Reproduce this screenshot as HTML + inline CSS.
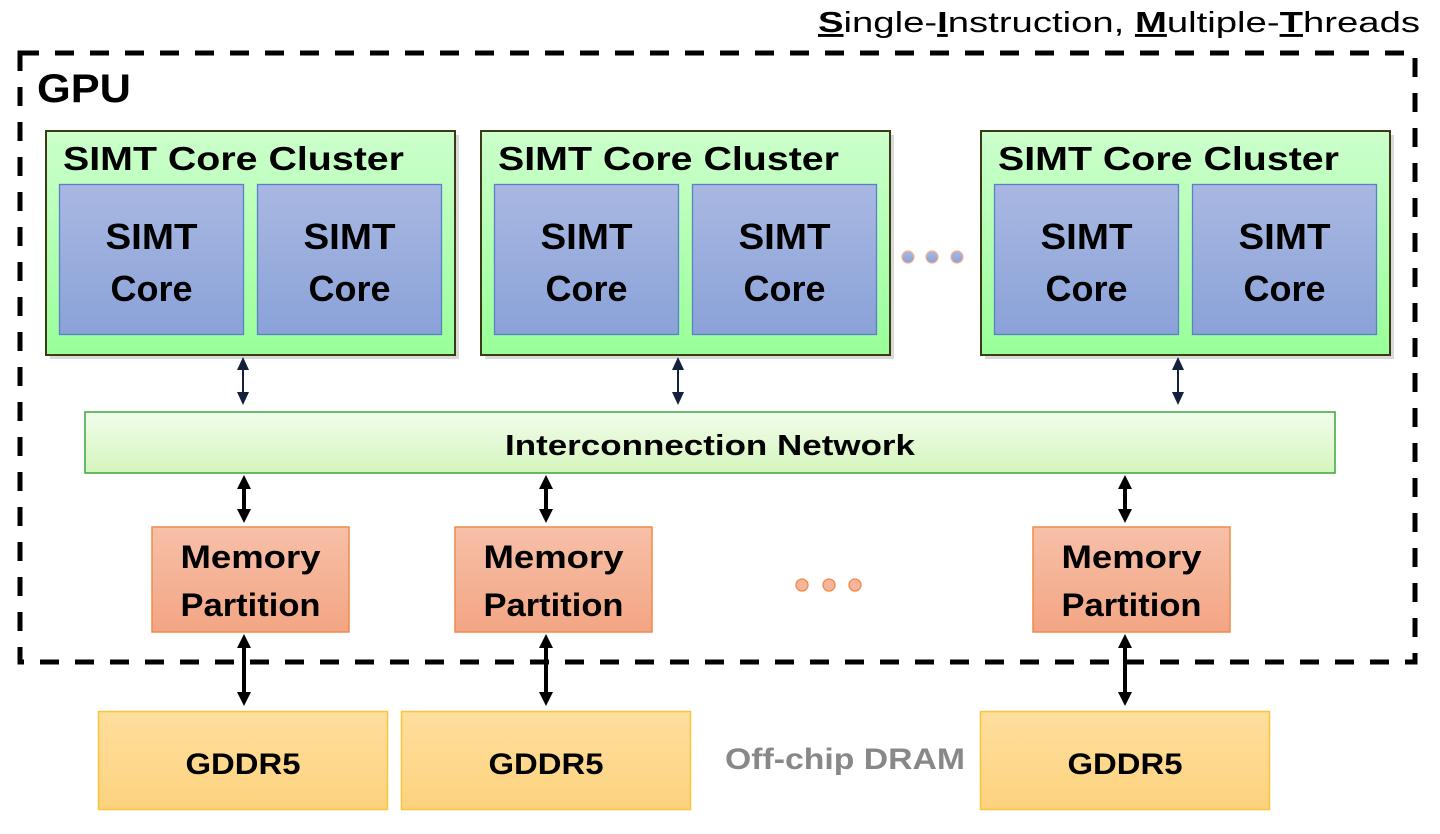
<!DOCTYPE html>
<html><head><meta charset="utf-8"><style>
html,body{margin:0;padding:0;background:#fff;}
svg{display:block;}
text{font-family:"Liberation Sans",sans-serif;font-weight:bold;fill:#000;}
</style></head><body>
<svg width="1440" height="834" viewBox="0 0 1440 834" xmlns="http://www.w3.org/2000/svg">
<defs>
<linearGradient id="gc" x1="0" y1="0" x2="0" y2="1"><stop offset="0" stop-color="#ccffcc"/><stop offset="1" stop-color="#99ff99"/></linearGradient>
<linearGradient id="gb" x1="0" y1="0" x2="0" y2="1"><stop offset="0" stop-color="#a9b8e2"/><stop offset="1" stop-color="#8aa2d8"/></linearGradient>
<linearGradient id="gi" x1="0" y1="0" x2="0" y2="1"><stop offset="0" stop-color="#f2fdec"/><stop offset="1" stop-color="#d4f5bd"/></linearGradient>
<linearGradient id="gm" x1="0" y1="0" x2="0" y2="1"><stop offset="0" stop-color="#f6c0a8"/><stop offset="1" stop-color="#f3a584"/></linearGradient>
<linearGradient id="gdr" x1="0" y1="0" x2="0" y2="1"><stop offset="0" stop-color="#fedf9e"/><stop offset="1" stop-color="#fdd27e"/></linearGradient>
<linearGradient id="gdot" x1="0" y1="0" x2="0" y2="1"><stop offset="0" stop-color="#a9b8e2"/><stop offset="1" stop-color="#8aa2d8"/></linearGradient>
</defs>

<text x="1420" y="32" text-anchor="end" font-size="29" style="font-weight:normal" textLength="602" lengthAdjust="spacingAndGlyphs"><tspan font-weight="bold" text-decoration="underline">S</tspan>ingle-<tspan font-weight="bold" text-decoration="underline">I</tspan>nstruction, <tspan font-weight="bold" text-decoration="underline">M</tspan>ultiple-<tspan font-weight="bold" text-decoration="underline">T</tspan>hreads</text>

<rect x="20" y="53" width="1395" height="609" fill="none" stroke="#000" stroke-width="5" stroke-dasharray="19 16"/>
<text x="37" y="102" font-size="40" textLength="94" lengthAdjust="spacingAndGlyphs">GPU</text>

<g id="cl">
<rect x="50" y="135" width="409" height="224" fill="#000" opacity="0.15"/>
<rect x="46" y="131" width="409" height="224" fill="url(#gc)" stroke="#3a3a14" stroke-width="2"/>
<text x="63" y="170" font-size="33" textLength="341" lengthAdjust="spacingAndGlyphs">SIMT Core Cluster</text>
<rect x="59.5" y="184.5" width="184" height="150" fill="url(#gb)" stroke="#5a80c8" stroke-width="1.3"/>
<rect x="257.5" y="184.5" width="184" height="150" fill="url(#gb)" stroke="#5a80c8" stroke-width="1.3"/>
<text x="151.5" y="249" font-size="36" text-anchor="middle" textLength="92" lengthAdjust="spacingAndGlyphs">SIMT</text>
<text x="151.5" y="301" font-size="36" text-anchor="middle" textLength="82" lengthAdjust="spacingAndGlyphs">Core</text>
<text x="349.5" y="249" font-size="36" text-anchor="middle" textLength="92" lengthAdjust="spacingAndGlyphs">SIMT</text>
<text x="349.5" y="301" font-size="36" text-anchor="middle" textLength="82" lengthAdjust="spacingAndGlyphs">Core</text>
</g>
<use href="#cl" x="435"/>
<use href="#cl" x="935"/>

<g fill="url(#gdot)" stroke="#f5b08a" stroke-width="1.2">
<circle cx="908" cy="257" r="6"/><circle cx="932" cy="257" r="6"/><circle cx="957" cy="257" r="6"/>
</g>

<g id="ta" fill="#14213d" stroke="#14213d">
<line x1="243" y1="368" x2="243" y2="395" stroke-width="2"/>
<polygon points="243,357 237,370 249,370" stroke="none"/>
<polygon points="243,405 237,392 249,392" stroke="none"/>
</g>
<use href="#ta" x="435"/>
<use href="#ta" x="935"/>

<rect x="85" y="412" width="1250" height="61" fill="url(#gi)" stroke="#3aa63a" stroke-width="1.5"/>
<text x="710" y="455" font-size="29" text-anchor="middle" textLength="410" lengthAdjust="spacingAndGlyphs">Interconnection Network</text>

<g id="ka" fill="#000" stroke="#000">
<line x1="244" y1="485" x2="244" y2="513" stroke-width="4"/>
<polygon points="244,475 237,489 251,489" stroke="none"/>
<polygon points="244,523 237,509 251,509" stroke="none"/>
</g>
<use href="#ka" x="302"/>
<use href="#ka" x="881"/>

<g id="mp">
<rect x="152" y="527" width="197" height="105" fill="url(#gm)" stroke="#f08a4a" stroke-width="1.5"/>
<text x="250.5" y="568" font-size="32" text-anchor="middle" textLength="140" lengthAdjust="spacingAndGlyphs">Memory</text>
<text x="250.5" y="616" font-size="32" text-anchor="middle" textLength="140" lengthAdjust="spacingAndGlyphs">Partition</text>
</g>
<use href="#mp" x="303"/>
<use href="#mp" x="881"/>

<g fill="#f6b498" stroke="#f08a4a" stroke-width="1.3">
<circle cx="802" cy="585" r="6"/><circle cx="829" cy="585" r="6"/><circle cx="855" cy="585" r="6"/>
</g>

<g id="la" fill="#000" stroke="#000">
<line x1="244" y1="644" x2="244" y2="696" stroke-width="4"/>
<polygon points="244,634 237,648 251,648" stroke="none"/>
<polygon points="244,706 237,692 251,692" stroke="none"/>
</g>
<use href="#la" x="302"/>
<use href="#la" x="881"/>

<g id="gbox">
<rect x="98.5" y="711.5" width="289" height="98" fill="url(#gdr)" stroke="#f8c43a" stroke-width="1.5"/>
<text x="243" y="774" font-size="30" text-anchor="middle" textLength="115" lengthAdjust="spacingAndGlyphs">GDDR5</text>
</g>
<use href="#gbox" x="303"/>
<use href="#gbox" x="882"/>

<text x="845" y="769" font-size="30" text-anchor="middle" style="fill:#888" textLength="240" lengthAdjust="spacingAndGlyphs">Off-chip DRAM</text>
</svg>
</body></html>
